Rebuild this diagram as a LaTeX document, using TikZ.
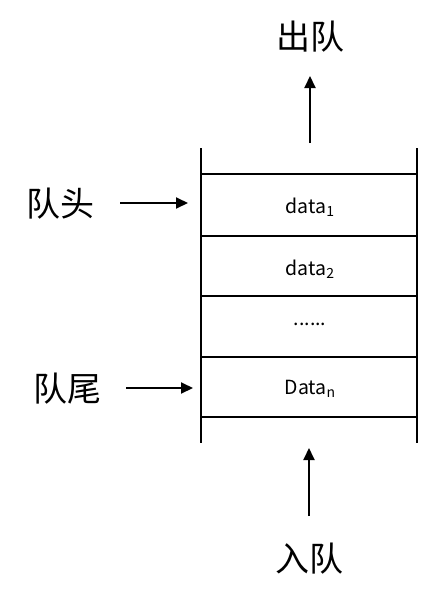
\documentclass[tikz,border=0pt]{standalone}
\usepackage{fontspec}
\setmainfont{Noto Sans CJK SC}
\usetikzlibrary{arrows.meta}
\newcommand{\mysubs}[1]{\raisebox{-0.3ex}{\fontsize{14}{16}\selectfont #1}}
\begin{document}
\begin{tikzpicture}[x=1pt,y=-1pt,
  frame/.style={line width=2pt},
  arr/.style={line width=2pt,-{Triangle[length=12pt,width=11pt]}},
  zh/.style={font=\fontsize{34}{40}\selectfont,inner sep=0pt},
  cell/.style={font=\fontsize{19.5}{22}\selectfont,inner sep=0pt,minimum width=215pt,minimum height=60pt}]
\useasboundingbox (0,0) rectangle (421,603);
% frame
\draw[frame] (201,148) -- (201,443);
\draw[frame] (417,148) -- (417,443);
\foreach \yy in {174,236,296,357,417}
  \draw[frame] (201,\yy) -- (417,\yy);
% cells
\node[cell] (c1) at (310,207) {data\mysubs{1}};
\node[cell] (c2) at (310,269) {data\mysubs{2}};
\node[cell] (c3) at (310,327) {\raisebox{0.5ex}{......}};
\node[cell] (c4) at (310,389) {Data\mysubs{n}};
% labels
\node[zh] (out) at (310,37) {出队};
\node[zh] (in) at (309,559) {入队};
\node[zh] (head) at (61,204) {队头};
\node[zh] (tail) at (67,389) {队尾};
% arrows
\coordinate (outs) at (310,143);
\coordinate (outt) at (310,76);
\draw[arr] (outs) -- (outt);
\coordinate (ins) at (309,516);
\coordinate (int) at (309,448);
\draw[arr] (ins) -- (int);
\coordinate (hs) at (120,203);
\coordinate (ht) at (188,203);
\draw[arr] (hs) -- (ht);
\coordinate (ts) at (126,388);
\coordinate (tt) at (193,388);
\draw[arr] (ts) -- (tt);
\end{tikzpicture}
\end{document}
